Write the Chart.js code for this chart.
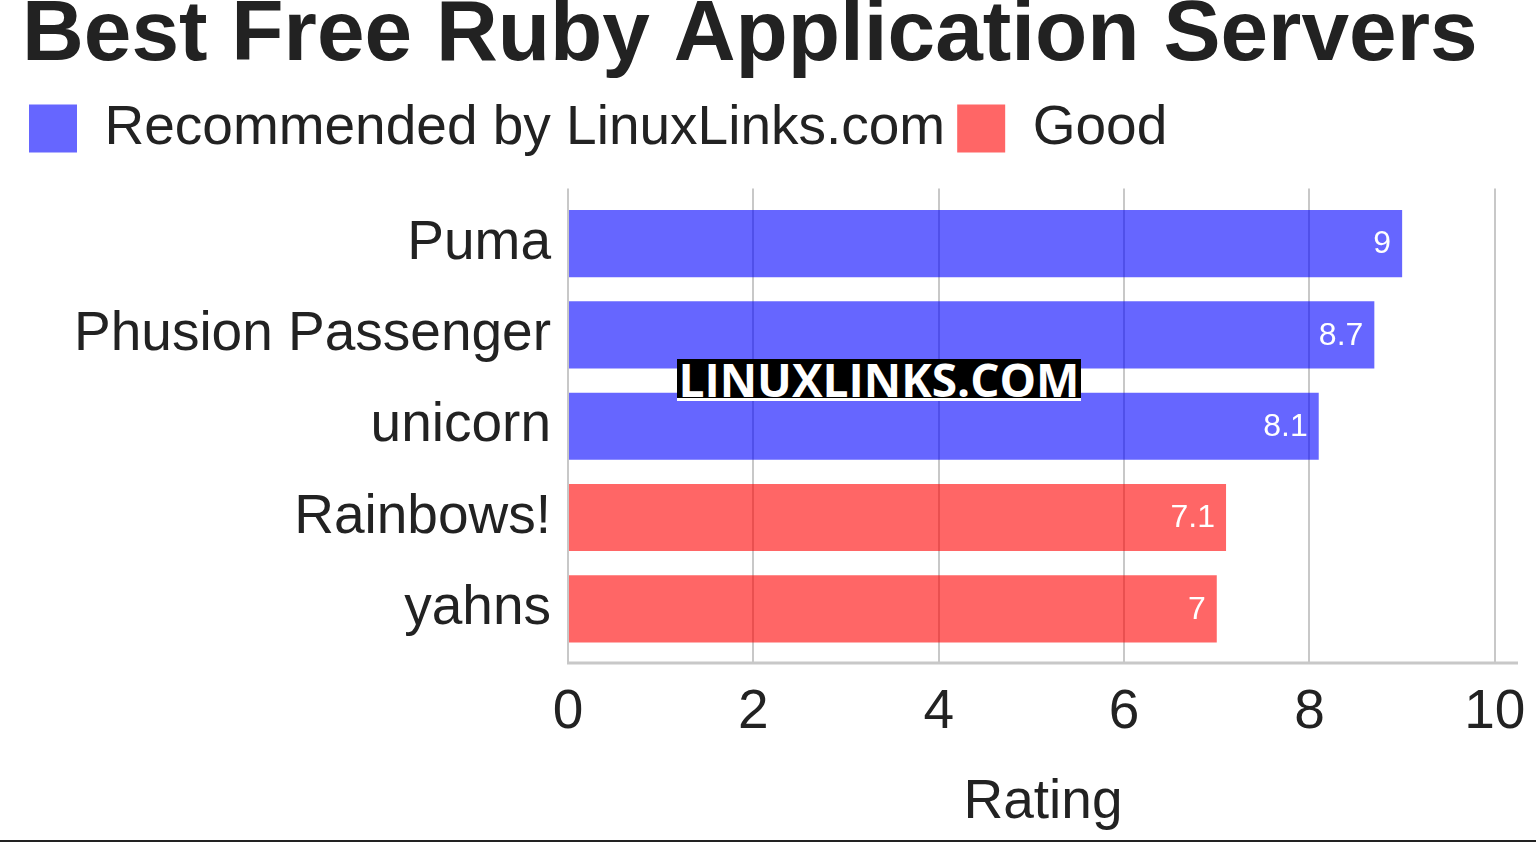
<!DOCTYPE html>
<html>
<head>
<meta charset="utf-8">
<title>Best Free Ruby Application Servers</title>
<script src="https://cdn.jsdelivr.net/npm/chart.js@4.4.1/dist/chart.umd.min.js"></script>
<style>
  html, body { margin: 0; padding: 0; background: #fff; }
  #wrap { position: relative; width: 1536px; height: 843px; overflow: hidden; }
  #chart { position: absolute; left: 0; top: 0; }
  /* site watermark over the bars */
  .watermark {
    position: absolute; left: 677px; top: 359px; width: 404px; height: 39px;
    background: #000; color: #fff; border-bottom: 3px solid #fff;
    font: bold 46px "Open Sans", sans-serif; line-height: 40px; text-align: center;
    white-space: nowrap; overflow: hidden;
  }
  .rule { position: absolute; left: 0; top: 840px; width: 1536px; height: 2px; background: #222; }
</style>
</head>
<body>
<div id="wrap">
  <canvas id="chart" width="1536" height="843"></canvas>
  <div class="watermark">LINUXLINKS.COM</div>
  <div class="rule"></div>
</div>
<script>
// Chart data
const chartTitle = "Best Free Ruby Application Servers";
const servers = ["Puma", "Phusion Passenger", "unicorn", "Rainbows!", "yahns"];
const recommended = [9, 8.7, 8.1, null, null];
const good = [null, null, null, 7.1, 7];
const axisTitle = "Rating";

const textColour = "#222";
const gridColour = "#c8c8c8";

Chart.defaults.font.family = '"Liberation Sans", Arial, sans-serif';
Chart.defaults.color = textColour;

// white value labels at the inner end of each bar
const barValueLabels = {
    id: "barValueLabels",
    afterDatasetsDraw(chart) {
        const ctx = chart.ctx;
        ctx.save();
        ctx.fillStyle = "#fff";
        ctx.font = '32px "Liberation Sans", Arial, sans-serif';
        ctx.textAlign = "right";
        ctx.textBaseline = "middle";
        chart.data.datasets.forEach(function (ds, i) {
            chart.getDatasetMeta(i).data.forEach(function (bar, j) {
                if (ds.data[j] == null) return;
                ctx.fillText(String(ds.data[j]), bar.x - 11, bar.y + 1);
            });
        });
        ctx.restore();
    }
};

// grey baseline under the grid, at the end of the x tick marks
const axisBaseline = {
    id: "axisBaseline",
    beforeDatasetsDraw(chart) {
        const area = chart.chartArea;
        const y = area.bottom + chart.scales.x.options.grid.tickLength;
        const ctx = chart.ctx;
        ctx.save();
        ctx.strokeStyle = gridColour;
        ctx.lineWidth = 3;
        ctx.beginPath();
        ctx.moveTo(area.left - 1, y);
        ctx.lineTo(area.right, y);
        ctx.stroke();
        ctx.restore();
    }
};

// nudge the title a few pixels right of the legend edge
const titleNudge = {
    id: "titleNudge",
    afterLayout(chart) {
        if (chart.titleBlock) {
            chart.titleBlock.left += 5;
            chart.titleBlock.right += 5;
        }
    }
};

const ctx = document.getElementById("chart").getContext("2d");
const chart = new Chart(ctx, {
    type: "bar",
    data: {
        labels: servers,
        datasets: [{
            label: "Recommended by LinuxLinks.com",
            data: recommended,
            backgroundColor: "rgba(0, 0, 255, 0.6)",
            borderWidth: 0
        }, {
            label: "Good",
            data: good,
            backgroundColor: "rgba(255, 0, 0, 0.6)",
            borderWidth: 0
        }]
    },
    options: {
        indexAxis: "y",
        responsive: false,
        animation: false,
        barPercentage: 0.735,
        categoryPercentage: 1,
        layout: { padding: { left: 17, right: 18, top: 0, bottom: 7 } },
        plugins: {
            title: {
                display: true,
                text: chartTitle,
                align: "start",
                color: textColour,
                font: { size: 85.6, weight: "bold", lineHeight: 0.78 },
                padding: { top: 3, bottom: 19.2 }
            },
            legend: {
                position: "top",
                align: "start",
                labels: {
                    boxWidth: 48,
                    boxHeight: 48,
                    padding: 12,
                    color: textColour,
                    font: { size: 55 }
                }
            },
            tooltip: { enabled: false }
        },
        scales: {
            x: {
                stacked: true,
                min: 0,
                max: 10.25,
                ticks: { stepSize: 2, includeBounds: false, padding: 16.5, font: { size: 55 }, color: textColour },
                grid: { color: gridColour, lineWidth: 2, tickLength: 8.5 },
                border: { display: false },
                title: { display: true, text: axisTitle, font: { size: 55 }, color: textColour, padding: { top: 8, bottom: 0 } },
                // let the last tick label hang into the right margin
                afterFit: function (scale) { scale.paddingRight = 0; }
            },
            // top axis only to run the grid lines a little above the bars
            x2: {
                axis: "x",
                position: "top",
                min: 0,
                max: 10.25,
                ticks: { display: false, stepSize: 2, includeBounds: false },
                grid: { drawOnChartArea: false, color: gridColour, lineWidth: 2, tickLength: 9.5 },
                border: { display: false },
                title: { display: true, text: "", font: { size: 1, lineHeight: 1 }, padding: { top: 21.5, bottom: 0 } }
            },
            y: {
                stacked: true,
                ticks: { padding: 17, font: { size: 55 }, color: textColour },
                grid: { display: false, drawTicks: false },
                border: { display: false },
                afterFit: function (scale) { scale.width = 551; }
            }
        }
    },
    plugins: [barValueLabels, axisBaseline, titleNudge]
});
</script>
</body>
</html>
